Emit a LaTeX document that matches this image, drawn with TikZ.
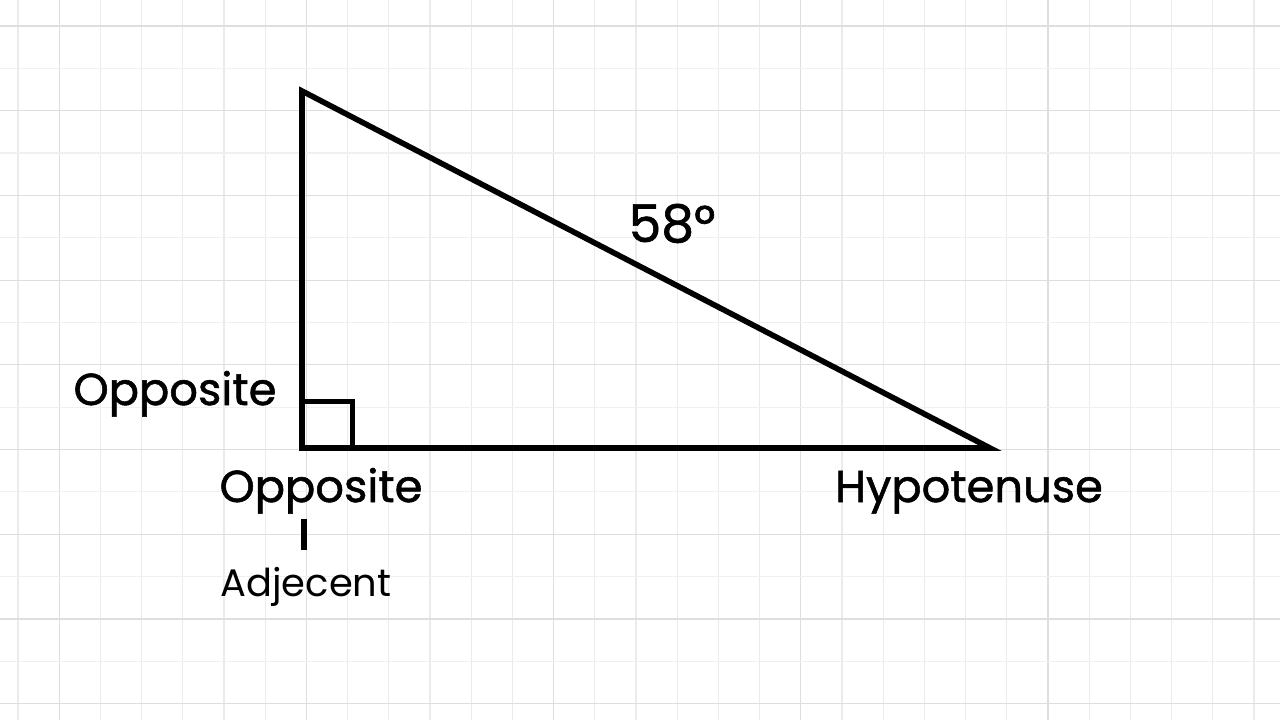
\documentclass[tikz,border=0pt]{standalone}
\usepackage{fontspec}
\newfontfamily\labelfont{Poppins}[FakeBold=1.2]
\newfontfamily\thinfont{Poppins}
\begin{document}
\begin{tikzpicture}[x=0.5pt,y=-0.5pt,
  side/.style={line width=2.8pt,line join=miter,line cap=rect},
  lbl/.style={font=\labelfont\fontsize{22.4}{22.4}\selectfont,anchor=base,inner sep=0pt}]
\useasboundingbox[fill=white](0,0)rectangle(1280,720);
% grid paper
\foreach \i in {0,...,31}{\pgfmathsetmacro{\gx}{18+41.2*\i}
  \pgfmathtruncatemacro{\mj}{mod(\i+5,6)==0}
  \ifnum\mj=1 \draw[black!13,line width=0.6pt](\gx,0)--(\gx,720);\else \draw[black!8,line width=0.6pt](\gx,0)--(\gx,720);\fi}
\foreach \j in {0,...,16}{\pgfmathsetmacro{\gy}{26+42.35*\j}
  \pgfmathtruncatemacro{\mj}{mod(\j,2)==0}
  \ifnum\mj=1 \draw[black!13,line width=0.6pt](0,\gy)--(1280,\gy);\else \draw[black!6,line width=0.6pt](0,\gy)--(1280,\gy);\fi}
% triangle
\coordinate(top)at(302,91);
\coordinate(rgt)at(302,448);
\coordinate(tip)at(990,448);
\draw[side](top)--(rgt)--(tip)--cycle;
\draw[line width=2.5pt](302,401)--(352,401)--(352,448);
% labels
\node[lbl](angle)at(672,242){\fontsize{26}{26}\selectfont 58°};
\node[lbl](oppL)at(175,405){Opposite};
\node[lbl](oppB)at(321,502){Opposite};
\node[lbl](hyp)at(969,502){Hypotenuse};
\node[anchor=base,inner sep=0pt,font=\thinfont\fontsize{19.2}{19.2}\selectfont](adj)at(306,596){Adjecent};
\coordinate(tickA)at(304,519);
\coordinate(tickB)at(304,550);
\draw[line width=2.6pt](tickA)--(tickB);
\end{tikzpicture}
\end{document}
